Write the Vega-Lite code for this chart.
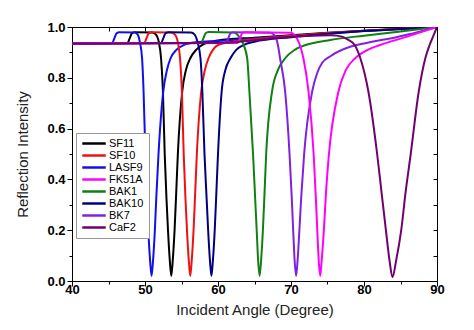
{
  "$schema": "https://vega.github.io/schema/vega-lite/v6.json",
  "autosize": "none",
  "width": 365,
  "height": 254,
  "padding": {"left": 72, "top": 27, "right": 37, "bottom": 49},
  "background": "white",
  "config": {"view": {"stroke": "black", "strokeWidth": 1}, "font": "Liberation Sans"},
  "datasets": {
    "curves": [
      {"glass":"SF11","angle":40,"R":0.936},{"glass":"SF11","angle":47.6,"R":0.937},{"glass":"SF11","angle":47.9,"R":0.955},{"glass":"SF11","angle":48.2,"R":0.975},{"glass":"SF11","angle":48.6,"R":0.979},{"glass":"SF11","angle":51.0,"R":0.978},{"glass":"SF11","angle":51.5,"R":0.97},{"glass":"SF11","angle":51.9,"R":0.94},{"glass":"SF11","angle":52.2,"R":0.877},{"glass":"SF11","angle":52.45,"R":0.75},{"glass":"SF11","angle":52.7,"R":0.5},{"glass":"SF11","angle":52.95,"R":0.32},{"glass":"SF11","angle":53.15,"R":0.2},{"glass":"SF11","angle":53.4,"R":0.08},{"glass":"SF11","angle":53.6,"R":0.02},{"glass":"SF11","angle":53.8,"R":0.08},{"glass":"SF11","angle":54.05,"R":0.2},{"glass":"SF11","angle":54.25,"R":0.33},{"glass":"SF11","angle":54.5,"R":0.5},{"glass":"SF11","angle":55.1,"R":0.746},{"glass":"SF11","angle":55.6,"R":0.83},{"glass":"SF11","angle":56.2,"R":0.877},{"glass":"SF11","angle":57.0,"R":0.91},{"glass":"SF11","angle":57.8,"R":0.929},{"glass":"SF11","angle":60,"R":0.947},{"glass":"SF11","angle":65,"R":0.958},{"glass":"SF11","angle":70,"R":0.968},{"glass":"SF11","angle":75,"R":0.977},{"glass":"SF11","angle":80,"R":0.985},{"glass":"SF11","angle":85,"R":0.993},{"glass":"SF11","angle":90,"R":1.0},

      {"glass":"LASF9","angle":40,"R":0.935},{"glass":"LASF9","angle":45.5,"R":0.937},{"glass":"LASF9","angle":45.8,"R":0.955},{"glass":"LASF9","angle":46.1,"R":0.975},{"glass":"LASF9","angle":46.5,"R":0.979},{"glass":"LASF9","angle":48.6,"R":0.978},{"glass":"LASF9","angle":49.0,"R":0.97},{"glass":"LASF9","angle":49.3,"R":0.94},{"glass":"LASF9","angle":49.6,"R":0.877},{"glass":"LASF9","angle":49.8,"R":0.75},{"glass":"LASF9","angle":50.05,"R":0.5},{"glass":"LASF9","angle":50.25,"R":0.33},{"glass":"LASF9","angle":50.45,"R":0.2},{"glass":"LASF9","angle":50.7,"R":0.08},{"glass":"LASF9","angle":50.9,"R":0.02},{"glass":"LASF9","angle":51.1,"R":0.08},{"glass":"LASF9","angle":51.35,"R":0.2},{"glass":"LASF9","angle":51.55,"R":0.33},{"glass":"LASF9","angle":51.85,"R":0.5},{"glass":"LASF9","angle":52.5,"R":0.746},{"glass":"LASF9","angle":53.0,"R":0.83},{"glass":"LASF9","angle":53.5,"R":0.877},{"glass":"LASF9","angle":54.3,"R":0.91},{"glass":"LASF9","angle":55.3,"R":0.929},{"glass":"LASF9","angle":57,"R":0.94},{"glass":"LASF9","angle":60,"R":0.945},{"glass":"LASF9","angle":65,"R":0.955},{"glass":"LASF9","angle":70,"R":0.966},{"glass":"LASF9","angle":75,"R":0.975},{"glass":"LASF9","angle":80,"R":0.984},{"glass":"LASF9","angle":85,"R":0.992},{"glass":"LASF9","angle":90,"R":1.0},

      {"glass":"SF10","angle":40,"R":0.936},{"glass":"SF10","angle":49.9,"R":0.937},{"glass":"SF10","angle":50.2,"R":0.955},{"glass":"SF10","angle":50.5,"R":0.975},{"glass":"SF10","angle":50.9,"R":0.979},{"glass":"SF10","angle":53.6,"R":0.978},{"glass":"SF10","angle":54.1,"R":0.97},{"glass":"SF10","angle":54.5,"R":0.94},{"glass":"SF10","angle":54.8,"R":0.877},{"glass":"SF10","angle":55.05,"R":0.75},{"glass":"SF10","angle":55.3,"R":0.5},{"glass":"SF10","angle":55.55,"R":0.32},{"glass":"SF10","angle":55.75,"R":0.2},{"glass":"SF10","angle":56.0,"R":0.08},{"glass":"SF10","angle":56.2,"R":0.02},{"glass":"SF10","angle":56.4,"R":0.08},{"glass":"SF10","angle":56.65,"R":0.2},{"glass":"SF10","angle":56.85,"R":0.33},{"glass":"SF10","angle":57.1,"R":0.5},{"glass":"SF10","angle":57.7,"R":0.746},{"glass":"SF10","angle":58.2,"R":0.83},{"glass":"SF10","angle":58.7,"R":0.877},{"glass":"SF10","angle":59.3,"R":0.91},{"glass":"SF10","angle":60.0,"R":0.929},{"glass":"SF10","angle":62,"R":0.942},{"glass":"SF10","angle":65,"R":0.952},{"glass":"SF10","angle":70,"R":0.965},{"glass":"SF10","angle":75,"R":0.976},{"glass":"SF10","angle":80,"R":0.985},{"glass":"SF10","angle":85,"R":0.993},{"glass":"SF10","angle":90,"R":1.0},

      {"glass":"BAK10","angle":40,"R":0.935},{"glass":"BAK10","angle":52.2,"R":0.937},{"glass":"BAK10","angle":52.5,"R":0.955},{"glass":"BAK10","angle":52.8,"R":0.975},{"glass":"BAK10","angle":53.2,"R":0.979},{"glass":"BAK10","angle":56.3,"R":0.978},{"glass":"BAK10","angle":56.8,"R":0.97},{"glass":"BAK10","angle":57.2,"R":0.94},{"glass":"BAK10","angle":57.6,"R":0.877},{"glass":"BAK10","angle":57.85,"R":0.75},{"glass":"BAK10","angle":58.15,"R":0.5},{"glass":"BAK10","angle":58.45,"R":0.32},{"glass":"BAK10","angle":58.65,"R":0.2},{"glass":"BAK10","angle":58.9,"R":0.08},{"glass":"BAK10","angle":59.1,"R":0.02},{"glass":"BAK10","angle":59.3,"R":0.08},{"glass":"BAK10","angle":59.55,"R":0.2},{"glass":"BAK10","angle":59.75,"R":0.33},{"glass":"BAK10","angle":60.0,"R":0.5},{"glass":"BAK10","angle":60.5,"R":0.746},{"glass":"BAK10","angle":61.0,"R":0.83},{"glass":"BAK10","angle":61.7,"R":0.877},{"glass":"BAK10","angle":62.5,"R":0.91},{"glass":"BAK10","angle":63.5,"R":0.929},{"glass":"BAK10","angle":65,"R":0.942},{"glass":"BAK10","angle":70,"R":0.96},{"glass":"BAK10","angle":75,"R":0.973},{"glass":"BAK10","angle":80,"R":0.984},{"glass":"BAK10","angle":85,"R":0.992},{"glass":"BAK10","angle":90,"R":1.0},

      {"glass":"BAK1","angle":40,"R":0.936},{"glass":"BAK1","angle":57.7,"R":0.937},{"glass":"BAK1","angle":58.0,"R":0.955},{"glass":"BAK1","angle":58.3,"R":0.975},{"glass":"BAK1","angle":58.7,"R":0.98},{"glass":"BAK1","angle":62.2,"R":0.978},{"glass":"BAK1","angle":62.8,"R":0.965},{"glass":"BAK1","angle":63.5,"R":0.93},{"glass":"BAK1","angle":64.0,"R":0.877},{"glass":"BAK1","angle":64.3,"R":0.746},{"glass":"BAK1","angle":64.8,"R":0.5},{"glass":"BAK1","angle":65.1,"R":0.32},{"glass":"BAK1","angle":65.3,"R":0.2},{"glass":"BAK1","angle":65.5,"R":0.08},{"glass":"BAK1","angle":65.7,"R":0.02},{"glass":"BAK1","angle":65.9,"R":0.08},{"glass":"BAK1","angle":66.15,"R":0.2},{"glass":"BAK1","angle":66.35,"R":0.33},{"glass":"BAK1","angle":66.6,"R":0.5},{"glass":"BAK1","angle":67.4,"R":0.746},{"glass":"BAK1","angle":68.2,"R":0.83},{"glass":"BAK1","angle":69.2,"R":0.877},{"glass":"BAK1","angle":70.5,"R":0.91},{"glass":"BAK1","angle":72.0,"R":0.929},{"glass":"BAK1","angle":75.4,"R":0.949},{"glass":"BAK1","angle":80,"R":0.966},{"glass":"BAK1","angle":85,"R":0.982},{"glass":"BAK1","angle":90,"R":1.0},

      {"glass":"BK7","angle":40,"R":0.935},{"glass":"BK7","angle":61.1,"R":0.937},{"glass":"BK7","angle":61.4,"R":0.955},{"glass":"BK7","angle":61.7,"R":0.975},{"glass":"BK7","angle":62.1,"R":0.979},{"glass":"BK7","angle":67.2,"R":0.977},{"glass":"BK7","angle":67.8,"R":0.965},{"glass":"BK7","angle":68.2,"R":0.93},{"glass":"BK7","angle":68.5,"R":0.877},{"glass":"BK7","angle":69.2,"R":0.746},{"glass":"BK7","angle":69.8,"R":0.5},{"glass":"BK7","angle":70.1,"R":0.33},{"glass":"BK7","angle":70.3,"R":0.2},{"glass":"BK7","angle":70.5,"R":0.08},{"glass":"BK7","angle":70.7,"R":0.02},{"glass":"BK7","angle":70.9,"R":0.08},{"glass":"BK7","angle":71.15,"R":0.2},{"glass":"BK7","angle":71.4,"R":0.33},{"glass":"BK7","angle":71.8,"R":0.5},{"glass":"BK7","angle":72.9,"R":0.746},{"glass":"BK7","angle":73.6,"R":0.82},{"glass":"BK7","angle":74.3,"R":0.86},{"glass":"BK7","angle":75.4,"R":0.885},{"glass":"BK7","angle":78.1,"R":0.922},{"glass":"BK7","angle":80,"R":0.935},{"glass":"BK7","angle":82.2,"R":0.948},{"glass":"BK7","angle":84,"R":0.957},{"glass":"BK7","angle":86.8,"R":0.976},{"glass":"BK7","angle":90,"R":1.0},

      {"glass":"FK51A","angle":40,"R":0.936},{"glass":"FK51A","angle":62.7,"R":0.937},{"glass":"FK51A","angle":63.0,"R":0.955},{"glass":"FK51A","angle":63.3,"R":0.975},{"glass":"FK51A","angle":63.7,"R":0.979},{"glass":"FK51A","angle":70.0,"R":0.977},{"glass":"FK51A","angle":70.6,"R":0.965},{"glass":"FK51A","angle":71.2,"R":0.93},{"glass":"FK51A","angle":71.7,"R":0.877},{"glass":"FK51A","angle":72.4,"R":0.746},{"glass":"FK51A","angle":73.1,"R":0.5},{"glass":"FK51A","angle":73.4,"R":0.33},{"glass":"FK51A","angle":73.6,"R":0.2},{"glass":"FK51A","angle":73.8,"R":0.08},{"glass":"FK51A","angle":74.0,"R":0.02},{"glass":"FK51A","angle":74.2,"R":0.08},{"glass":"FK51A","angle":74.5,"R":0.2},{"glass":"FK51A","angle":74.8,"R":0.35},{"glass":"FK51A","angle":75.2,"R":0.5},{"glass":"FK51A","angle":76.5,"R":0.746},{"glass":"FK51A","angle":77.5,"R":0.83},{"glass":"FK51A","angle":78.8,"R":0.877},{"glass":"FK51A","angle":80.5,"R":0.91},{"glass":"FK51A","angle":82.2,"R":0.929},{"glass":"FK51A","angle":85.9,"R":0.962},{"glass":"FK51A","angle":90,"R":1.0},

      {"glass":"CaF2","angle":40,"R":0.935},{"glass":"CaF2","angle":60,"R":0.938},{"glass":"CaF2","angle":64,"R":0.945},{"glass":"CaF2","angle":68,"R":0.957},{"glass":"CaF2","angle":72,"R":0.965},{"glass":"CaF2","angle":75.5,"R":0.968},{"glass":"CaF2","angle":77.0,"R":0.962},{"glass":"CaF2","angle":77.8,"R":0.95},{"glass":"CaF2","angle":78.7,"R":0.93},{"glass":"CaF2","angle":79.5,"R":0.877},{"glass":"CaF2","angle":80.6,"R":0.746},{"glass":"CaF2","angle":81.8,"R":0.5},{"glass":"CaF2","angle":82.4,"R":0.35},{"glass":"CaF2","angle":83.0,"R":0.2},{"glass":"CaF2","angle":83.5,"R":0.08},{"glass":"CaF2","angle":83.9,"R":0.015},{"glass":"CaF2","angle":84.4,"R":0.08},{"glass":"CaF2","angle":85.1,"R":0.2},{"glass":"CaF2","angle":85.7,"R":0.35},{"glass":"CaF2","angle":86.4,"R":0.5},{"glass":"CaF2","angle":87.5,"R":0.746},{"glass":"CaF2","angle":88.4,"R":0.877},{"glass":"CaF2","angle":89.0,"R":0.93},{"glass":"CaF2","angle":89.5,"R":0.965},{"glass":"CaF2","angle":90,"R":1.0}
    ]
  },
  "data": {"name": "curves"},
  "layer": [
    {
      "mark": {"type": "line", "strokeWidth": 2, "interpolate": "monotone", "clip": true},
      "encoding": {
        "x": {
          "field": "angle", "type": "quantitative",
          "scale": {"domain": [40, 90], "nice": false, "zero": false},
          "axis": {
            "orient": "bottom",
            "values": [40,45,50,55,60,65,70,75,80,85,90],
            "labelExpr": "datum.value % 10 === 0 ? datum.value : ''",
            "labelFlush": false,
            "title": "Incident Angle (Degree)",
            "titleFontSize": 15, "titleFontWeight": "normal", "titleColor": "#222", "titlePadding": 6,
            "labelFontSize": 13, "labelFontWeight": "bold", "labelColor": "black", "labelPadding": -3,
            "tickSize": {"condition": {"test": "datum.value % 10 === 0", "value": 5}, "value": 3},
            "tickColor": "black", "domainColor": "black", "grid": false
          }
        },
        "y": {
          "field": "R", "type": "quantitative",
          "scale": {"domain": [0, 1], "nice": false},
          "axis": {
            "orient": "left",
            "values": [0,0.1,0.2,0.3,0.4,0.5,0.6,0.7,0.8,0.9,1.0],
            "labelExpr": "round(datum.value*10) % 2 === 0 ? format(datum.value, '.1f') : ''",
            "labelFlush": false,
            "title": "Reflection Intensity",
            "titleFontSize": 15, "titleFontWeight": "normal", "titleColor": "#222", "titlePadding": 16,
            "labelFontSize": 13, "labelFontWeight": "bold", "labelColor": "black", "labelPadding": 2,
            "tickSize": {"condition": {"test": "round(datum.value*10) % 2 === 0", "value": 5}, "value": 3},
            "tickColor": "black", "domainColor": "black", "grid": false
          }
        },
        "color": {
          "field": "glass", "type": "nominal",
          "scale": {
            "domain": ["SF11","SF10","LASF9","FK51A","BAK1","BAK10","BK7","CaF2"],
            "range": ["#000000","#ee1111","#1010ee","#ff00ff","#108010","#000080","#8020e0","#700070"]
          },
          "legend": {
            "orient": "none", "legendX": 4, "legendY": 106,
            "title": null,
            "symbolType": "stroke", "symbolSize": 550, "symbolStrokeWidth": 2.5,
            "labelFontSize": 11, "labelColor": "black", "labelFont": "Liberation Sans",
            "clipHeight": 11, "rowPadding": 0, "padding": 5, "strokeColor": "#999999", "fillColor": "white", "labelOffset": 2
          }
        }
      }
    },
    {
      "mark": {"type": "point", "opacity": 0},
      "encoding": {
        "x": {
          "field": "angle", "type": "quantitative",
          "axis": {
            "orient": "top", "values": [40,45,50,55,60,65,70,75,80,85,90], "labels": false, "title": null,
            "tickSize": -4, "tickColor": "black", "domainColor": "black", "grid": false
          }
        },
        "y": {
          "field": "R", "type": "quantitative",
          "axis": {
            "orient": "right", "values": [0,0.1,0.2,0.3,0.4,0.5,0.6,0.7,0.8,0.9,1.0], "labels": false, "title": null,
            "tickSize": -4, "tickColor": "black", "domainColor": "black", "grid": false
          }
        }
      }
    }
  ],
  "resolve": {"axis": {"x": "independent", "y": "independent"}}
}
